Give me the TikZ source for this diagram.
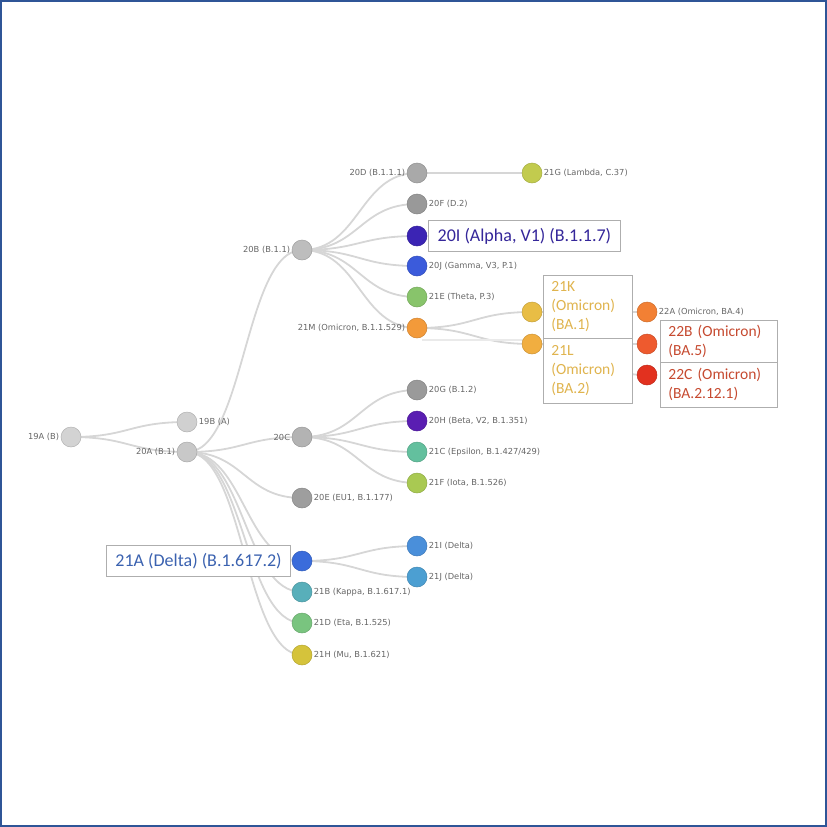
\documentclass[tikz,border=0pt]{standalone}
\usepackage{fontspec}
\setmainfont{DejaVu Sans}
\newfontfamily\boxfont{Carlito}
\usetikzlibrary{calc}
\pgfdeclarelayer{bg}
\pgfsetlayers{bg,main}
\definecolor{frame}{HTML}{2F5597}
\definecolor{edgec}{HTML}{D6D6D6}
\definecolor{boxline}{HTML}{AEAEAE}
\definecolor{labc}{HTML}{666666}
\definecolor{c19A}{HTML}{D3D3D3}
\definecolor{c19B}{HTML}{D0D0D0}
\definecolor{c20A}{HTML}{C8C8C8}
\definecolor{c20B}{HTML}{BDBDBD}
\definecolor{c20C}{HTML}{B3B3B3}
\definecolor{c20D}{HTML}{A9A9A9}
\definecolor{c20F}{HTML}{999999}
\definecolor{c20E}{HTML}{9E9E9E}
\definecolor{c20G}{HTML}{9A9A9A}
\definecolor{c21G}{HTML}{C2CB4E}
\definecolor{c20I}{HTML}{3B24B4}
\definecolor{c20J}{HTML}{3B5BDB}
\definecolor{c21E}{HTML}{88C46B}
\definecolor{c21M}{HTML}{F39A3A}
\definecolor{c21K}{HTML}{E8BD45}
\definecolor{c21L}{HTML}{F1AE40}
\definecolor{c22A}{HTML}{F28034}
\definecolor{c22B}{HTML}{EE5A2E}
\definecolor{c22C}{HTML}{E2311F}
\definecolor{c20H}{HTML}{5A1EB2}
\definecolor{c21C}{HTML}{63C09E}
\definecolor{c21F}{HTML}{A9C952}
\definecolor{c21A}{HTML}{3A6CDB}
\definecolor{c21I}{HTML}{4A8FDA}
\definecolor{c21J}{HTML}{4C9FD2}
\definecolor{c21B}{HTML}{58AFBA}
\definecolor{c21D}{HTML}{79C47F}
\definecolor{c21H}{HTML}{D5C33B}
\definecolor{t20I}{HTML}{35279A}
\definecolor{t21A}{HTML}{3B62B0}
\definecolor{tOmK}{HTML}{E0B44E}
\definecolor{tOmB}{HTML}{C64A30}
\begin{document}
\begin{tikzpicture}[x=1pt,y=-1pt,
  dot/.style={circle, minimum size=20pt, inner sep=0pt, fill=#1, draw=#1!85!black, line width=0.5pt},
  lab/.style={font=\fontsize{8.3}{10}\selectfont, text=labc, inner sep=1.5pt},
  edge/.style={draw=edgec, line width=1.8pt},
  faint/.style={draw=edgec!50, line width=1.2pt},
  bbox/.style={draw=boxline, fill=white, line width=0.8pt, inner sep=0pt, font=\boxfont\fontsize{18}{20}\selectfont},
  obox/.style={draw=boxline, fill=white, line width=0.8pt, inner xsep=8pt, inner ysep=0pt, align=left, anchor=north west, font=\boxfont\fontsize{15.5}{19}\selectfont}
]
\useasboundingbox (0,0) rectangle (827,827);
\draw[draw=frame, line width=2.2pt] (1.1,1.1) rectangle (825.9,825.9);

% nodes
\node[dot=c19A, label={[lab]180:19A (B)}] (n19A) at (71,437) {};
\node[dot=c19B, label={[lab]0:19B (A)}] (n19B) at (187,422) {};
\node[dot=c20A, label={[lab]180:20A (B.1)}] (n20A) at (187,452) {};
\node[dot=c20B, label={[lab]180:20B (B.1.1)}] (n20B) at (302,250) {};
\node[dot=c20C, label={[lab]180:20C}] (n20C) at (302,437) {};
\node[dot=c20E, label={[lab]0:20E (EU1, B.1.177)}] (n20E) at (302,498) {};
\node[dot=c21A] (n21A) at (302,561) {};
\node[dot=c21B, label={[lab]0:21B (Kappa, B.1.617.1)}] (n21B) at (302,592) {};
\node[dot=c21D, label={[lab]0:21D (Eta, B.1.525)}] (n21D) at (302,623) {};
\node[dot=c21H, label={[lab]0:21H (Mu, B.1.621)}] (n21H) at (302,655) {};
\node[dot=c20D, label={[lab]180:20D (B.1.1.1)}] (n20D) at (417,173) {};
\node[dot=c21G, label={[lab]0:21G (Lambda, C.37)}] (n21G) at (532,173) {};
\node[dot=c20F, label={[lab]0:20F (D.2)}] (n20F) at (417,204) {};
\node[dot=c20I] (n20I) at (417,236) {};
\node[dot=c20J, label={[lab]0:20J (Gamma, V3, P.1)}] (n20J) at (417,266) {};
\node[dot=c21E, label={[lab]0:21E (Theta, P.3)}] (n21E) at (417,297) {};
\node[dot=c21M, label={[lab]180:21M (Omicron, B.1.1.529)}] (n21M) at (417,328) {};
\node[dot=c21K] (n21K) at (532,312) {};
\node[dot=c21L] (n21L) at (532,344) {};
\node[dot=c22A, label={[lab]0:22A (Omicron, BA.4)}] (n22A) at (647,312) {};
\node[dot=c22B] (n22B) at (647,344) {};
\node[dot=c22C] (n22C) at (647,375) {};
\node[dot=c20G, label={[lab]0:20G (B.1.2)}] (n20G) at (417,390) {};
\node[dot=c20H, label={[lab]0:20H (Beta, V2, B.1.351)}] (n20H) at (417,421) {};
\node[dot=c21C, label={[lab]0:21C (Epsilon, B.1.427/429)}] (n21C) at (417,452) {};
\node[dot=c21F, label={[lab]0:21F (Iota, B.1.526)}] (n21F) at (417,483) {};
\node[dot=c21I, label={[lab]0:21I (Delta)}] (n21I) at (417,546) {};
\node[dot=c21J, label={[lab]0:21J (Delta)}] (n21J) at (417,577) {};

% edges
\begin{pgfonlayer}{bg}
\foreach \a/\b in {19A/19B,19A/20A,20A/20B,20A/20C,20A/20E,20A/21A,20A/21B,20A/21D,20A/21H,
  20B/20D,20B/20F,20B/20I,20B/20J,20B/21E,20B/21M,20D/21G,21M/21K,21M/21L,21K/22A,21L/22B,21L/22C,
  20C/20G,20C/20H,20C/21C,20C/21F,21A/21I,21A/21J}
  \draw[edge] let \p1=(n\a.center), \p2=(n\b.center) in
    (\p1) .. controls ({(\x1+\x2)/2},\y1) and ({(\x1+\x2)/2},\y2) .. (\p2);
\coordinate (f1) at (422,340);
\coordinate (f2) at (532,340);
\draw[faint] (f1) -- (f2);
\end{pgfonlayer}

% tooltip boxes
\node[bbox, text=t20I, minimum width=192pt, minimum height=31pt, anchor=west] (b20I) at (428,236) {20I (Alpha, V1) (B.1.1.7)};
\node[bbox, text=t21A, minimum width=184pt, minimum height=31pt, anchor=east] (b21A) at (291,561) {21A (Delta) (B.1.617.2)};
\node[obox, text=tOmK, text width=73pt, minimum height=63pt] (b21K) at (543,275) {21K\\(Omicron)\\(BA.1)};
\node[obox, text=tOmK, text width=73pt, minimum height=65pt] (b21L) at (543,338) {21L\\(Omicron)\\(BA.2)};
\node[obox, text=tOmB, text width=101pt, minimum height=42pt] (b22B) at (660,320) {22B (Omicron)\\(BA.5)};
\node[obox, text=tOmB, text width=101pt, minimum height=45pt] (b22C) at (660,362) {22C (Omicron)\\(BA.2.12.1)};
\end{tikzpicture}
\end{document}
